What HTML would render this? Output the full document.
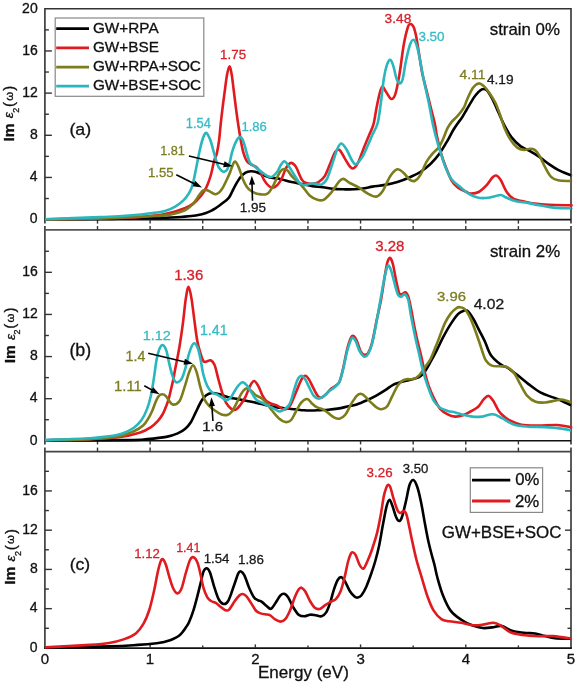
<!DOCTYPE html><html><head><meta charset="utf-8"><style>html,body{margin:0;padding:0;background:#fff;}svg{display:block;filter:blur(0.3px);}text{font-family:"Liberation Sans",Arial,sans-serif;stroke-width:0.3px;}</style></head><body>
<svg width="577" height="685" viewBox="0 0 577 685">
<rect width="577" height="685" fill="#fff"/>
<path d="M44.90,223.60 L44.90,8.75 L571.00,8.75 L571.00,223.60" fill="none" stroke="#333333" stroke-width="1.60" stroke-linejoin="miter"/>
<line x1="44.90" y1="219.60" x2="571.00" y2="219.60" stroke="#111" stroke-width="1.60" stroke-linecap="butt"/>
<line x1="44.90" y1="226.10" x2="44.90" y2="444.40" stroke="#333333" stroke-width="1.60" stroke-linecap="butt"/>
<line x1="571.00" y1="226.10" x2="571.00" y2="444.40" stroke="#333333" stroke-width="1.60" stroke-linecap="butt"/>
<line x1="44.90" y1="229.90" x2="571.00" y2="229.90" stroke="#555" stroke-width="1.60" stroke-linecap="butt"/>
<line x1="44.90" y1="440.80" x2="571.00" y2="440.80" stroke="#111" stroke-width="1.60" stroke-linecap="butt"/>
<line x1="44.90" y1="447.60" x2="44.90" y2="648.80" stroke="#333333" stroke-width="1.60" stroke-linecap="butt"/>
<line x1="571.00" y1="447.60" x2="571.00" y2="648.80" stroke="#333333" stroke-width="1.60" stroke-linecap="butt"/>
<line x1="44.90" y1="451.60" x2="571.00" y2="451.60" stroke="#444" stroke-width="1.60" stroke-linecap="butt"/>
<line x1="44.10" y1="648.20" x2="571.80" y2="648.20" stroke="#111" stroke-width="1.80" stroke-linecap="butt"/>
<line x1="97.51" y1="219.60" x2="97.51" y2="223.60" stroke="#333333" stroke-width="1.40" stroke-linecap="butt"/>
<line x1="97.51" y1="226.10" x2="97.51" y2="229.90" stroke="#333333" stroke-width="1.40" stroke-linecap="butt"/>
<line x1="97.51" y1="440.80" x2="97.51" y2="444.40" stroke="#333333" stroke-width="1.40" stroke-linecap="butt"/>
<line x1="97.51" y1="447.60" x2="97.51" y2="451.60" stroke="#333333" stroke-width="1.40" stroke-linecap="butt"/>
<line x1="97.51" y1="647.90" x2="97.51" y2="645.40" stroke="#333333" stroke-width="1.40" stroke-linecap="butt"/>
<line x1="150.12" y1="219.60" x2="150.12" y2="223.60" stroke="#333333" stroke-width="1.40" stroke-linecap="butt"/>
<line x1="150.12" y1="226.10" x2="150.12" y2="229.90" stroke="#333333" stroke-width="1.40" stroke-linecap="butt"/>
<line x1="150.12" y1="440.80" x2="150.12" y2="444.40" stroke="#333333" stroke-width="1.40" stroke-linecap="butt"/>
<line x1="150.12" y1="447.60" x2="150.12" y2="451.60" stroke="#333333" stroke-width="1.40" stroke-linecap="butt"/>
<line x1="150.12" y1="647.90" x2="150.12" y2="644.40" stroke="#333333" stroke-width="1.40" stroke-linecap="butt"/>
<line x1="202.73" y1="219.60" x2="202.73" y2="223.60" stroke="#333333" stroke-width="1.40" stroke-linecap="butt"/>
<line x1="202.73" y1="226.10" x2="202.73" y2="229.90" stroke="#333333" stroke-width="1.40" stroke-linecap="butt"/>
<line x1="202.73" y1="440.80" x2="202.73" y2="444.40" stroke="#333333" stroke-width="1.40" stroke-linecap="butt"/>
<line x1="202.73" y1="447.60" x2="202.73" y2="451.60" stroke="#333333" stroke-width="1.40" stroke-linecap="butt"/>
<line x1="202.73" y1="647.90" x2="202.73" y2="645.40" stroke="#333333" stroke-width="1.40" stroke-linecap="butt"/>
<line x1="255.34" y1="219.60" x2="255.34" y2="223.60" stroke="#333333" stroke-width="1.40" stroke-linecap="butt"/>
<line x1="255.34" y1="226.10" x2="255.34" y2="229.90" stroke="#333333" stroke-width="1.40" stroke-linecap="butt"/>
<line x1="255.34" y1="440.80" x2="255.34" y2="444.40" stroke="#333333" stroke-width="1.40" stroke-linecap="butt"/>
<line x1="255.34" y1="447.60" x2="255.34" y2="451.60" stroke="#333333" stroke-width="1.40" stroke-linecap="butt"/>
<line x1="255.34" y1="647.90" x2="255.34" y2="644.40" stroke="#333333" stroke-width="1.40" stroke-linecap="butt"/>
<line x1="307.95" y1="219.60" x2="307.95" y2="223.60" stroke="#333333" stroke-width="1.40" stroke-linecap="butt"/>
<line x1="307.95" y1="226.10" x2="307.95" y2="229.90" stroke="#333333" stroke-width="1.40" stroke-linecap="butt"/>
<line x1="307.95" y1="440.80" x2="307.95" y2="444.40" stroke="#333333" stroke-width="1.40" stroke-linecap="butt"/>
<line x1="307.95" y1="447.60" x2="307.95" y2="451.60" stroke="#333333" stroke-width="1.40" stroke-linecap="butt"/>
<line x1="307.95" y1="647.90" x2="307.95" y2="645.40" stroke="#333333" stroke-width="1.40" stroke-linecap="butt"/>
<line x1="360.56" y1="219.60" x2="360.56" y2="223.60" stroke="#333333" stroke-width="1.40" stroke-linecap="butt"/>
<line x1="360.56" y1="226.10" x2="360.56" y2="229.90" stroke="#333333" stroke-width="1.40" stroke-linecap="butt"/>
<line x1="360.56" y1="440.80" x2="360.56" y2="444.40" stroke="#333333" stroke-width="1.40" stroke-linecap="butt"/>
<line x1="360.56" y1="447.60" x2="360.56" y2="451.60" stroke="#333333" stroke-width="1.40" stroke-linecap="butt"/>
<line x1="360.56" y1="647.90" x2="360.56" y2="644.40" stroke="#333333" stroke-width="1.40" stroke-linecap="butt"/>
<line x1="413.17" y1="219.60" x2="413.17" y2="223.60" stroke="#333333" stroke-width="1.40" stroke-linecap="butt"/>
<line x1="413.17" y1="226.10" x2="413.17" y2="229.90" stroke="#333333" stroke-width="1.40" stroke-linecap="butt"/>
<line x1="413.17" y1="440.80" x2="413.17" y2="444.40" stroke="#333333" stroke-width="1.40" stroke-linecap="butt"/>
<line x1="413.17" y1="447.60" x2="413.17" y2="451.60" stroke="#333333" stroke-width="1.40" stroke-linecap="butt"/>
<line x1="413.17" y1="647.90" x2="413.17" y2="645.40" stroke="#333333" stroke-width="1.40" stroke-linecap="butt"/>
<line x1="465.78" y1="219.60" x2="465.78" y2="223.60" stroke="#333333" stroke-width="1.40" stroke-linecap="butt"/>
<line x1="465.78" y1="226.10" x2="465.78" y2="229.90" stroke="#333333" stroke-width="1.40" stroke-linecap="butt"/>
<line x1="465.78" y1="440.80" x2="465.78" y2="444.40" stroke="#333333" stroke-width="1.40" stroke-linecap="butt"/>
<line x1="465.78" y1="447.60" x2="465.78" y2="451.60" stroke="#333333" stroke-width="1.40" stroke-linecap="butt"/>
<line x1="465.78" y1="647.90" x2="465.78" y2="644.40" stroke="#333333" stroke-width="1.40" stroke-linecap="butt"/>
<line x1="518.39" y1="219.60" x2="518.39" y2="223.60" stroke="#333333" stroke-width="1.40" stroke-linecap="butt"/>
<line x1="518.39" y1="226.10" x2="518.39" y2="229.90" stroke="#333333" stroke-width="1.40" stroke-linecap="butt"/>
<line x1="518.39" y1="440.80" x2="518.39" y2="444.40" stroke="#333333" stroke-width="1.40" stroke-linecap="butt"/>
<line x1="518.39" y1="447.60" x2="518.39" y2="451.60" stroke="#333333" stroke-width="1.40" stroke-linecap="butt"/>
<line x1="518.39" y1="647.90" x2="518.39" y2="645.40" stroke="#333333" stroke-width="1.40" stroke-linecap="butt"/>
<line x1="44.90" y1="219.60" x2="51.90" y2="219.60" stroke="#333333" stroke-width="1.40" stroke-linecap="butt"/>
<line x1="44.90" y1="198.52" x2="48.90" y2="198.52" stroke="#333333" stroke-width="1.40" stroke-linecap="butt"/>
<line x1="44.90" y1="177.44" x2="51.90" y2="177.44" stroke="#333333" stroke-width="1.40" stroke-linecap="butt"/>
<line x1="44.90" y1="156.36" x2="48.90" y2="156.36" stroke="#333333" stroke-width="1.40" stroke-linecap="butt"/>
<line x1="44.90" y1="135.28" x2="51.90" y2="135.28" stroke="#333333" stroke-width="1.40" stroke-linecap="butt"/>
<line x1="44.90" y1="114.20" x2="48.90" y2="114.20" stroke="#333333" stroke-width="1.40" stroke-linecap="butt"/>
<line x1="44.90" y1="93.12" x2="51.90" y2="93.12" stroke="#333333" stroke-width="1.40" stroke-linecap="butt"/>
<line x1="44.90" y1="72.04" x2="48.90" y2="72.04" stroke="#333333" stroke-width="1.40" stroke-linecap="butt"/>
<line x1="44.90" y1="50.96" x2="51.90" y2="50.96" stroke="#333333" stroke-width="1.40" stroke-linecap="butt"/>
<line x1="44.90" y1="29.88" x2="48.90" y2="29.88" stroke="#333333" stroke-width="1.40" stroke-linecap="butt"/>
<line x1="44.90" y1="440.80" x2="51.90" y2="440.80" stroke="#333333" stroke-width="1.40" stroke-linecap="butt"/>
<line x1="44.90" y1="419.74" x2="48.90" y2="419.74" stroke="#333333" stroke-width="1.40" stroke-linecap="butt"/>
<line x1="44.90" y1="398.68" x2="51.90" y2="398.68" stroke="#333333" stroke-width="1.40" stroke-linecap="butt"/>
<line x1="44.90" y1="377.62" x2="48.90" y2="377.62" stroke="#333333" stroke-width="1.40" stroke-linecap="butt"/>
<line x1="44.90" y1="356.56" x2="51.90" y2="356.56" stroke="#333333" stroke-width="1.40" stroke-linecap="butt"/>
<line x1="44.90" y1="335.50" x2="48.90" y2="335.50" stroke="#333333" stroke-width="1.40" stroke-linecap="butt"/>
<line x1="44.90" y1="314.44" x2="51.90" y2="314.44" stroke="#333333" stroke-width="1.40" stroke-linecap="butt"/>
<line x1="44.90" y1="293.38" x2="48.90" y2="293.38" stroke="#333333" stroke-width="1.40" stroke-linecap="butt"/>
<line x1="44.90" y1="272.32" x2="51.90" y2="272.32" stroke="#333333" stroke-width="1.40" stroke-linecap="butt"/>
<line x1="44.90" y1="251.26" x2="48.90" y2="251.26" stroke="#333333" stroke-width="1.40" stroke-linecap="butt"/>
<line x1="44.90" y1="647.90" x2="51.90" y2="647.90" stroke="#333333" stroke-width="1.40" stroke-linecap="butt"/>
<line x1="44.90" y1="628.28" x2="48.90" y2="628.28" stroke="#333333" stroke-width="1.40" stroke-linecap="butt"/>
<line x1="571.00" y1="628.28" x2="567.50" y2="628.28" stroke="#333333" stroke-width="1.40" stroke-linecap="butt"/>
<line x1="44.90" y1="608.66" x2="51.90" y2="608.66" stroke="#333333" stroke-width="1.40" stroke-linecap="butt"/>
<line x1="571.00" y1="608.66" x2="565.00" y2="608.66" stroke="#333333" stroke-width="1.40" stroke-linecap="butt"/>
<line x1="44.90" y1="589.04" x2="48.90" y2="589.04" stroke="#333333" stroke-width="1.40" stroke-linecap="butt"/>
<line x1="571.00" y1="589.04" x2="567.50" y2="589.04" stroke="#333333" stroke-width="1.40" stroke-linecap="butt"/>
<line x1="44.90" y1="569.42" x2="51.90" y2="569.42" stroke="#333333" stroke-width="1.40" stroke-linecap="butt"/>
<line x1="571.00" y1="569.42" x2="565.00" y2="569.42" stroke="#333333" stroke-width="1.40" stroke-linecap="butt"/>
<line x1="44.90" y1="549.80" x2="48.90" y2="549.80" stroke="#333333" stroke-width="1.40" stroke-linecap="butt"/>
<line x1="571.00" y1="549.80" x2="567.50" y2="549.80" stroke="#333333" stroke-width="1.40" stroke-linecap="butt"/>
<line x1="44.90" y1="530.18" x2="51.90" y2="530.18" stroke="#333333" stroke-width="1.40" stroke-linecap="butt"/>
<line x1="571.00" y1="530.18" x2="565.00" y2="530.18" stroke="#333333" stroke-width="1.40" stroke-linecap="butt"/>
<line x1="44.90" y1="510.56" x2="48.90" y2="510.56" stroke="#333333" stroke-width="1.40" stroke-linecap="butt"/>
<line x1="571.00" y1="510.56" x2="567.50" y2="510.56" stroke="#333333" stroke-width="1.40" stroke-linecap="butt"/>
<line x1="44.90" y1="490.94" x2="51.90" y2="490.94" stroke="#333333" stroke-width="1.40" stroke-linecap="butt"/>
<line x1="571.00" y1="490.94" x2="565.00" y2="490.94" stroke="#333333" stroke-width="1.40" stroke-linecap="butt"/>
<line x1="44.90" y1="471.32" x2="48.90" y2="471.32" stroke="#333333" stroke-width="1.40" stroke-linecap="butt"/>
<line x1="571.00" y1="471.32" x2="567.50" y2="471.32" stroke="#333333" stroke-width="1.40" stroke-linecap="butt"/>
<path d="M45.00,219.30 C54.17,219.25 84.17,219.22 100.00,219.00 C115.83,218.78 130.47,218.17 140.00,218.00 C149.53,217.83 151.15,218.13 157.20,218.00 C163.25,217.87 170.58,217.53 176.30,217.20 C182.02,216.87 187.38,216.47 191.50,216.00 C195.62,215.53 198.58,214.90 201.00,214.40 C203.42,213.90 204.33,213.60 206.00,213.00 C207.67,212.40 209.50,211.53 211.00,210.80 C212.50,210.07 213.58,209.48 215.00,208.60 C216.42,207.72 218.00,206.60 219.50,205.50 C221.00,204.40 222.70,203.03 224.00,202.00 C225.30,200.97 226.30,200.30 227.30,199.30 C228.30,198.30 228.68,198.28 230.00,196.00 C231.32,193.72 233.47,188.72 235.20,185.60 C236.93,182.48 238.67,179.47 240.40,177.30 C242.13,175.13 243.87,173.62 245.60,172.60 C247.33,171.58 249.07,171.32 250.80,171.20 C252.53,171.08 254.27,171.40 256.00,171.90 C257.73,172.40 259.47,173.48 261.20,174.20 C262.93,174.92 264.67,175.60 266.40,176.20 C268.13,176.80 269.87,177.45 271.60,177.80 C273.33,178.15 275.07,178.03 276.80,178.30 C278.53,178.57 279.53,178.78 282.00,179.40 C284.47,180.02 288.27,181.22 291.60,182.00 C294.93,182.78 298.53,183.40 302.00,184.10 C305.47,184.80 308.93,185.68 312.40,186.20 C315.87,186.72 319.33,186.75 322.80,187.20 C326.27,187.65 329.73,188.55 333.20,188.90 C336.67,189.25 340.13,189.23 343.60,189.30 C347.07,189.37 350.53,189.48 354.00,189.30 C357.47,189.12 361.32,188.65 364.40,188.20 C367.48,187.75 369.07,187.15 372.50,186.60 C375.93,186.05 380.85,185.67 385.00,184.90 C389.15,184.13 393.25,183.28 397.40,182.00 C401.55,180.72 406.08,178.87 409.90,177.20 C413.72,175.53 416.83,174.25 420.30,172.00 C423.77,169.75 427.58,166.65 430.70,163.70 C433.82,160.75 436.22,158.12 439.00,154.30 C441.78,150.48 445.07,144.77 447.40,140.80 C449.73,136.83 451.23,133.47 453.00,130.50 C454.77,127.53 456.50,125.17 458.00,123.00 C459.50,120.83 460.50,119.83 462.00,117.50 C463.50,115.17 465.00,112.35 467.00,109.00 C469.00,105.65 472.17,100.15 474.00,97.40 C475.83,94.65 476.63,93.87 478.00,92.50 C479.37,91.13 480.72,89.55 482.20,89.20 C483.68,88.85 485.15,88.65 486.90,90.40 C488.65,92.15 490.77,96.02 492.70,99.70 C494.63,103.38 496.55,108.22 498.50,112.50 C500.45,116.78 502.25,121.30 504.40,125.40 C506.55,129.50 508.68,133.60 511.40,137.10 C514.12,140.60 517.60,144.07 520.70,146.40 C523.80,148.73 526.88,149.35 530.00,151.10 C533.12,152.85 536.28,154.77 539.40,156.90 C542.52,159.03 545.58,161.75 548.70,163.90 C551.82,166.05 554.58,167.97 558.10,169.80 C561.62,171.63 567.65,173.98 569.80,174.90 C571.95,175.82 570.80,175.23 571.00,175.30" fill="none" stroke="#000000" stroke-width="2.60" stroke-linejoin="round" stroke-linecap="butt"/>
<path d="M45.00,219.30 C54.17,219.17 84.48,218.87 100.00,218.50 C115.52,218.13 128.57,217.65 138.10,217.10 C147.63,216.55 152.72,215.72 157.20,215.20 C161.68,214.68 162.00,214.62 165.00,214.00 C168.00,213.38 171.80,212.50 175.20,211.50 C178.60,210.50 182.33,209.35 185.40,208.00 C188.47,206.65 191.20,205.20 193.60,203.40 C196.00,201.60 197.92,199.43 199.80,197.20 C201.68,194.97 203.55,192.25 204.90,190.00 C206.25,187.75 206.88,186.28 207.90,183.70 C208.92,181.12 210.13,177.57 211.00,174.50 C211.87,171.43 212.48,167.88 213.10,165.30 C213.72,162.72 214.07,161.03 214.70,159.00 C215.33,156.97 216.17,156.27 216.90,153.10 C217.63,149.93 218.43,145.17 219.10,140.00 C219.77,134.83 220.28,127.77 220.90,122.10 C221.52,116.43 222.13,111.35 222.80,106.00 C223.47,100.65 224.20,95.17 224.90,90.00 C225.60,84.83 226.25,78.93 227.00,75.00 C227.75,71.07 228.63,66.57 229.40,66.40 C230.17,66.23 230.88,70.07 231.60,74.00 C232.32,77.93 232.95,84.12 233.70,90.00 C234.45,95.88 235.28,103.13 236.10,109.30 C236.92,115.47 237.78,121.65 238.60,127.00 C239.42,132.35 240.20,137.12 241.00,141.40 C241.80,145.68 242.47,149.48 243.40,152.70 C244.33,155.92 245.27,158.70 246.60,160.70 C247.93,162.70 249.80,163.63 251.40,164.70 C253.00,165.77 254.73,165.87 256.20,167.10 C257.67,168.33 258.85,169.88 260.20,172.10 C261.55,174.32 262.92,178.15 264.30,180.40 C265.68,182.65 267.12,184.37 268.50,185.60 C269.88,186.83 271.22,187.80 272.60,187.80 C273.98,187.80 275.57,186.65 276.80,185.60 C278.03,184.55 279.13,182.77 280.00,181.50 C280.87,180.23 281.10,180.00 282.00,178.00 C282.90,176.00 284.32,171.75 285.40,169.50 C286.48,167.25 287.47,165.60 288.50,164.50 C289.53,163.40 290.60,162.82 291.60,162.90 C292.60,162.98 293.63,164.07 294.50,165.00 C295.37,165.93 295.55,166.02 296.80,168.50 C298.05,170.98 300.43,177.48 302.00,179.90 C303.57,182.32 304.47,182.37 306.20,183.00 C307.93,183.63 310.33,183.87 312.40,183.70 C314.47,183.53 316.52,183.32 318.60,182.00 C320.68,180.68 322.82,179.27 324.90,175.80 C326.98,172.33 329.37,165.20 331.10,161.20 C332.83,157.20 333.92,153.70 335.30,151.80 C336.68,149.90 337.85,148.75 339.40,149.80 C340.95,150.85 342.87,155.33 344.60,158.10 C346.33,160.87 348.40,164.67 349.80,166.40 C351.20,168.13 351.97,168.57 353.00,168.50 C354.03,168.43 354.97,167.38 356.00,166.00 C357.03,164.62 357.83,163.37 359.20,160.20 C360.57,157.03 362.50,151.27 364.20,147.00 C365.90,142.73 367.85,138.40 369.40,134.60 C370.95,130.80 372.30,128.73 373.50,124.20 C374.70,119.67 375.55,112.63 376.60,107.40 C377.65,102.17 378.82,96.27 379.80,92.80 C380.78,89.33 381.47,86.77 382.50,86.60 C383.53,86.43 384.55,89.73 386.00,91.80 C387.45,93.87 389.63,98.67 391.20,99.00 C392.77,99.33 394.02,97.95 395.40,93.80 C396.78,89.65 398.12,82.23 399.50,74.10 C400.88,65.97 402.32,52.80 403.70,45.00 C405.08,37.20 406.67,30.80 407.80,27.30 C408.93,23.80 409.52,24.00 410.50,24.00 C411.48,24.00 412.75,25.20 413.70,27.30 C414.65,29.40 415.27,31.92 416.20,36.60 C417.13,41.28 418.27,49.15 419.30,55.40 C420.33,61.65 421.18,68.22 422.40,74.10 C423.62,79.98 425.22,85.15 426.60,90.70 C427.98,96.25 429.32,101.85 430.70,107.40 C432.08,112.95 433.85,119.13 434.90,124.00 C435.95,128.87 435.97,131.72 437.00,136.60 C438.03,141.48 439.72,148.43 441.10,153.30 C442.48,158.17 443.57,161.30 445.30,165.80 C447.03,170.30 449.42,176.67 451.50,180.30 C453.58,183.93 455.37,185.68 457.80,187.60 C460.23,189.52 463.90,190.80 466.10,191.80 C468.30,192.80 468.90,193.57 471.00,193.60 C473.10,193.63 476.05,193.45 478.70,192.00 C481.35,190.55 484.57,187.37 486.90,184.90 C489.23,182.43 491.07,178.75 492.70,177.20 C494.33,175.65 495.33,175.08 496.70,175.60 C498.07,176.12 499.23,177.57 500.90,180.30 C502.57,183.03 504.57,188.88 506.70,192.00 C508.83,195.12 510.97,197.45 513.70,199.00 C516.43,200.55 519.60,200.53 523.10,201.30 C526.60,202.07 530.43,203.02 534.70,203.60 C538.97,204.18 542.85,204.52 548.70,204.80 C554.55,205.08 566.08,205.22 569.80,205.30 C573.52,205.38 570.80,205.30 571.00,205.30" fill="none" stroke="#e01a1e" stroke-width="2.60" stroke-linejoin="round" stroke-linecap="butt"/>
<path d="M45.00,219.30 C54.17,219.17 84.17,218.93 100.00,218.50 C115.83,218.07 130.47,217.12 140.00,216.70 C149.53,216.28 153.03,216.22 157.20,216.00 C161.37,215.78 162.00,215.82 165.00,215.40 C168.00,214.98 171.80,214.40 175.20,213.50 C178.60,212.60 182.67,211.35 185.40,210.00 C188.13,208.65 189.88,207.02 191.60,205.40 C193.32,203.78 194.33,202.17 195.70,200.30 C197.07,198.43 198.53,195.83 199.80,194.20 C201.07,192.57 202.12,191.18 203.30,190.50 C204.48,189.82 205.78,189.92 206.90,190.10 C208.02,190.28 209.22,191.20 210.00,191.60 C210.78,192.00 210.67,192.05 211.60,192.50 C212.53,192.95 214.28,194.37 215.60,194.30 C216.92,194.23 218.27,193.27 219.50,192.10 C220.73,190.93 221.83,189.27 223.00,187.30 C224.17,185.33 225.33,182.78 226.50,180.30 C227.67,177.82 228.98,174.88 230.00,172.40 C231.02,169.92 231.77,167.22 232.60,165.40 C233.43,163.58 234.00,161.22 235.00,161.50 C236.00,161.78 237.33,164.28 238.60,167.10 C239.87,169.92 241.27,175.17 242.60,178.40 C243.93,181.63 245.23,184.43 246.60,186.50 C247.97,188.57 249.23,189.65 250.80,190.80 C252.37,191.95 254.27,192.80 256.00,193.40 C257.73,194.00 259.62,194.23 261.20,194.40 C262.78,194.57 264.20,194.75 265.50,194.40 C266.80,194.05 267.83,193.53 269.00,192.30 C270.17,191.07 271.45,188.82 272.50,187.00 C273.55,185.18 274.05,183.90 275.30,181.40 C276.55,178.90 278.58,174.07 280.00,172.00 C281.42,169.93 282.50,169.20 283.80,169.00 C285.10,168.80 286.37,169.50 287.80,170.80 C289.23,172.10 290.03,174.27 292.40,176.80 C294.77,179.33 299.13,182.88 302.00,186.00 C304.87,189.12 307.03,193.20 309.60,195.50 C312.17,197.80 315.07,199.08 317.40,199.80 C319.73,200.52 321.27,201.05 323.60,199.80 C325.93,198.55 328.80,195.37 331.40,192.30 C334.00,189.23 337.17,183.63 339.20,181.40 C341.23,179.17 341.83,178.63 343.60,178.90 C345.37,179.17 347.37,181.62 349.80,183.00 C352.23,184.38 355.77,185.80 358.20,187.20 C360.63,188.60 362.43,190.13 364.40,191.40 C366.37,192.67 367.97,193.95 370.00,194.80 C372.03,195.65 374.45,197.18 376.60,196.50 C378.75,195.82 380.63,194.08 382.90,190.70 C385.17,187.32 387.78,179.77 390.20,176.20 C392.62,172.63 395.15,169.83 397.40,169.30 C399.65,168.77 401.62,171.23 403.70,173.00 C405.78,174.77 408.00,178.62 409.90,179.90 C411.80,181.18 413.37,181.50 415.10,180.70 C416.83,179.90 418.38,178.28 420.30,175.10 C422.22,171.92 424.52,165.23 426.60,161.60 C428.68,157.97 430.73,155.73 432.80,153.30 C434.87,150.87 437.27,149.43 439.00,147.00 C440.73,144.57 441.80,141.82 443.20,138.70 C444.60,135.58 446.02,131.07 447.40,128.30 C448.78,125.53 449.77,124.20 451.50,122.10 C453.23,120.00 455.72,118.15 457.80,115.70 C459.88,113.25 462.47,110.07 464.00,107.40 C465.53,104.73 465.53,102.93 467.00,99.70 C468.47,96.47 470.88,90.72 472.80,88.00 C474.72,85.28 476.73,83.78 478.50,83.40 C480.27,83.02 481.62,84.15 483.40,85.70 C485.18,87.25 487.27,89.98 489.20,92.70 C491.13,95.42 493.25,98.50 495.00,102.00 C496.75,105.50 498.13,109.42 499.70,113.70 C501.27,117.98 502.65,123.42 504.40,127.70 C506.15,131.98 508.07,136.08 510.20,139.40 C512.33,142.72 514.87,145.85 517.20,147.60 C519.53,149.35 522.07,149.72 524.20,149.90 C526.33,150.08 528.25,148.70 530.00,148.70 C531.75,148.70 533.13,148.73 534.70,149.90 C536.27,151.07 537.65,152.78 539.40,155.70 C541.15,158.62 543.25,163.88 545.20,167.40 C547.15,170.92 548.95,174.65 551.10,176.80 C553.25,178.95 554.98,179.60 558.10,180.30 C561.22,181.00 567.65,180.88 569.80,181.00 C571.95,181.12 570.80,181.00 571.00,181.00" fill="none" stroke="#7c7c1c" stroke-width="2.60" stroke-linejoin="round" stroke-linecap="butt"/>
<path d="M45.00,219.20 C54.17,218.85 87.65,217.58 100.00,217.10 C112.35,216.62 112.75,216.68 119.10,216.30 C125.45,215.92 132.38,215.37 138.10,214.80 C143.82,214.23 148.92,213.52 153.40,212.90 C157.88,212.28 161.37,212.15 165.00,211.10 C168.63,210.05 172.13,208.38 175.20,206.60 C178.27,204.82 181.18,202.50 183.40,200.40 C185.62,198.30 187.13,196.10 188.50,194.00 C189.87,191.90 190.75,190.02 191.60,187.80 C192.45,185.58 192.92,183.60 193.60,180.70 C194.28,177.80 195.02,173.82 195.70,170.40 C196.38,166.98 197.02,163.60 197.70,160.20 C198.38,156.80 199.05,153.28 199.80,150.00 C200.55,146.72 201.42,143.08 202.20,140.50 C202.98,137.92 203.78,135.75 204.50,134.50 C205.22,133.25 205.78,132.67 206.50,133.00 C207.22,133.33 208.05,135.00 208.80,136.50 C209.55,138.00 210.22,139.58 211.00,142.00 C211.78,144.42 212.67,147.98 213.50,151.00 C214.33,154.02 215.15,157.42 216.00,160.10 C216.85,162.78 217.60,165.27 218.60,167.10 C219.60,168.93 221.07,170.32 222.00,171.10 C222.93,171.88 223.37,172.02 224.20,171.80 C225.03,171.58 226.10,171.30 227.00,169.80 C227.90,168.30 228.80,165.58 229.60,162.80 C230.40,160.02 230.98,156.07 231.80,153.10 C232.62,150.13 233.55,147.35 234.50,145.00 C235.45,142.65 236.55,140.37 237.50,139.00 C238.45,137.63 239.22,136.40 240.20,136.80 C241.18,137.20 242.33,138.75 243.40,141.40 C244.47,144.05 245.53,149.22 246.60,152.70 C247.67,156.18 248.50,160.03 249.80,162.30 C251.10,164.57 252.80,164.97 254.40,166.30 C256.00,167.63 257.75,169.02 259.40,170.30 C261.05,171.58 262.70,172.92 264.30,174.00 C265.90,175.08 267.63,176.38 269.00,176.80 C270.37,177.22 271.08,177.38 272.50,176.50 C273.92,175.62 276.17,173.33 277.50,171.50 C278.83,169.67 279.37,167.22 280.50,165.50 C281.63,163.78 283.05,161.28 284.30,161.20 C285.55,161.12 286.78,163.43 288.00,165.00 C289.22,166.57 289.78,167.77 291.60,170.60 C293.42,173.43 296.82,179.58 298.90,182.00 C300.98,184.42 302.20,184.82 304.10,185.10 C306.00,185.38 308.22,183.93 310.30,183.70 C312.38,183.47 314.68,183.57 316.60,183.70 C318.52,183.83 320.07,185.30 321.80,184.50 C323.53,183.70 325.10,182.78 327.00,178.90 C328.90,175.02 331.47,166.23 333.20,161.20 C334.93,156.17 336.02,151.65 337.40,148.70 C338.78,145.75 339.95,143.32 341.50,143.50 C343.05,143.68 344.97,147.02 346.70,149.80 C348.43,152.58 350.33,157.78 351.90,160.20 C353.47,162.62 354.37,164.83 356.10,164.30 C357.83,163.77 360.62,159.53 362.30,157.00 C363.98,154.47 364.92,151.87 366.20,149.10 C367.48,146.33 368.95,142.82 370.00,140.40 C371.05,137.98 371.22,137.50 372.50,134.60 C373.78,131.70 376.32,128.23 377.70,123.00 C379.08,117.77 379.77,110.67 380.80,103.20 C381.83,95.73 382.87,84.62 383.90,78.20 C384.93,71.78 385.95,67.75 387.00,64.70 C388.05,61.65 389.15,59.72 390.20,59.90 C391.25,60.08 392.27,62.75 393.30,65.80 C394.33,68.85 395.37,75.27 396.40,78.20 C397.43,81.13 398.47,83.22 399.50,83.40 C400.53,83.58 401.55,82.93 402.60,79.30 C403.65,75.67 404.58,67.32 405.80,61.60 C407.02,55.88 408.58,48.63 409.90,45.00 C411.22,41.37 412.48,39.47 413.70,39.80 C414.92,40.13 416.10,43.37 417.20,47.00 C418.30,50.63 419.27,56.40 420.30,61.60 C421.33,66.80 422.35,73.00 423.40,78.20 C424.45,83.40 425.55,87.93 426.60,92.80 C427.65,97.67 428.67,102.20 429.70,107.40 C430.73,112.60 431.77,119.13 432.80,124.00 C433.83,128.87 434.68,132.07 435.90,136.60 C437.12,141.13 438.53,146.17 440.10,151.20 C441.67,156.23 443.40,162.12 445.30,166.80 C447.20,171.48 449.08,176.00 451.50,179.30 C453.92,182.60 457.02,184.23 459.80,186.60 C462.58,188.97 465.77,191.85 468.20,193.50 C470.63,195.15 472.43,195.75 474.40,196.50 C476.37,197.25 477.73,197.78 480.00,198.00 C482.27,198.22 485.50,198.10 488.00,197.80 C490.50,197.50 492.85,196.67 495.00,196.20 C497.15,195.73 498.95,194.73 500.90,195.00 C502.85,195.27 504.18,196.75 506.70,197.80 C509.22,198.85 512.50,200.45 516.00,201.30 C519.50,202.15 523.80,202.23 527.70,202.90 C531.60,203.57 535.12,204.52 539.40,205.30 C543.68,206.08 548.33,207.10 553.40,207.60 C558.47,208.10 566.87,208.18 569.80,208.30 C572.73,208.42 570.80,208.30 571.00,208.30" fill="none" stroke="#29b6bc" stroke-width="2.60" stroke-linejoin="round" stroke-linecap="butt"/>
<path d="M45.00,440.50 C58.85,440.43 111.07,440.33 128.10,440.10 C145.13,439.87 140.83,439.63 147.20,439.10 C153.57,438.57 161.22,437.85 166.30,436.90 C171.38,435.95 174.53,434.77 177.70,433.40 C180.87,432.03 183.08,430.60 185.30,428.70 C187.52,426.80 189.27,424.72 191.00,422.00 C192.73,419.28 193.97,415.90 195.70,412.40 C197.43,408.90 199.65,403.85 201.40,401.00 C203.15,398.15 204.45,396.63 206.20,395.30 C207.95,393.97 209.83,393.22 211.90,393.00 C213.97,392.78 215.90,393.30 218.60,394.00 C221.30,394.70 224.92,396.35 228.10,397.20 C231.28,398.05 234.52,398.47 237.70,399.10 C240.88,399.73 244.03,400.37 247.20,401.00 C250.37,401.63 253.52,402.20 256.70,402.90 C259.88,403.60 263.12,404.50 266.30,405.20 C269.48,405.90 272.63,406.58 275.80,407.10 C278.97,407.62 282.12,407.93 285.30,408.30 C288.48,408.67 291.78,408.97 294.90,409.30 C298.02,409.63 301.15,410.10 304.00,410.30 C306.85,410.50 309.33,410.53 312.00,410.50 C314.67,410.47 317.32,410.23 320.00,410.10 C322.68,409.97 325.15,409.95 328.10,409.70 C331.05,409.45 334.52,409.12 337.70,408.60 C340.88,408.08 344.03,407.30 347.20,406.60 C350.37,405.90 353.52,405.42 356.70,404.40 C359.88,403.38 363.12,401.93 366.30,400.50 C369.48,399.07 372.63,397.53 375.80,395.80 C378.97,394.07 382.43,391.93 385.30,390.10 C388.17,388.27 390.55,386.10 393.00,384.80 C395.45,383.50 397.25,383.10 400.00,382.30 C402.75,381.50 406.32,380.85 409.50,380.00 C412.68,379.15 416.55,378.62 419.10,377.20 C421.65,375.78 422.90,374.05 424.80,371.50 C426.70,368.95 428.60,365.25 430.50,361.90 C432.40,358.55 434.13,355.43 436.20,351.40 C438.27,347.37 440.52,342.20 442.90,337.70 C445.28,333.20 447.95,328.37 450.50,324.40 C453.05,320.43 455.97,316.20 458.20,313.90 C460.43,311.60 462.32,311.08 463.90,310.60 C465.48,310.12 466.12,309.60 467.70,311.00 C469.28,312.40 471.50,315.82 473.40,319.00 C475.30,322.18 477.18,326.35 479.10,330.10 C481.02,333.85 483.37,338.18 484.90,341.50 C486.43,344.82 487.20,347.58 488.30,350.00 C489.40,352.42 489.97,354.00 491.50,356.00 C493.03,358.00 495.43,360.27 497.50,362.00 C499.57,363.73 502.28,365.48 503.90,366.40 C505.52,367.32 505.07,366.13 507.20,367.50 C509.33,368.87 513.15,371.83 516.70,374.60 C520.25,377.37 524.57,381.13 528.50,384.10 C532.43,387.07 536.35,390.23 540.30,392.40 C544.25,394.57 548.65,395.72 552.20,397.10 C555.75,398.48 558.65,399.40 561.60,400.70 C564.55,402.00 568.33,404.15 569.90,404.90 C571.47,405.65 570.82,405.15 571.00,405.20" fill="none" stroke="#000000" stroke-width="2.60" stroke-linejoin="round" stroke-linecap="butt"/>
<path d="M45.00,440.20 C52.50,440.02 77.73,439.60 90.00,439.10 C102.27,438.60 110.22,438.32 118.60,437.20 C126.98,436.08 134.97,434.05 140.30,432.40 C145.63,430.75 147.70,429.18 150.60,427.30 C153.50,425.42 155.67,423.32 157.70,421.10 C159.73,418.88 161.43,416.38 162.80,414.00 C164.17,411.62 164.95,409.18 165.90,406.80 C166.85,404.42 167.65,402.60 168.50,399.70 C169.35,396.80 170.23,392.65 171.00,389.40 C171.77,386.15 172.43,383.43 173.10,380.20 C173.77,376.97 174.38,373.20 175.00,370.00 C175.62,366.80 176.03,365.00 176.80,361.00 C177.57,357.00 178.58,352.27 179.60,346.00 C180.62,339.73 181.87,331.30 182.90,323.40 C183.93,315.50 184.85,304.70 185.80,298.60 C186.75,292.50 187.65,286.80 188.60,286.80 C189.55,286.80 190.55,293.13 191.50,298.60 C192.45,304.07 193.35,312.62 194.30,319.60 C195.25,326.58 196.20,334.98 197.20,340.50 C198.20,346.02 199.25,349.25 200.30,352.70 C201.35,356.15 202.43,359.73 203.50,361.20 C204.57,362.67 205.50,361.65 206.70,361.50 C207.90,361.35 209.38,359.72 210.70,360.30 C212.02,360.88 213.28,361.72 214.60,365.00 C215.92,368.28 217.30,375.27 218.60,380.00 C219.90,384.73 221.13,389.58 222.40,393.40 C223.67,397.22 224.77,400.37 226.20,402.90 C227.63,405.43 229.40,407.48 231.00,408.60 C232.60,409.72 234.22,410.23 235.80,409.60 C237.38,408.97 238.92,406.87 240.50,404.80 C242.08,402.73 243.70,400.37 245.30,397.20 C246.90,394.03 248.60,388.50 250.10,385.80 C251.60,383.10 252.88,380.85 254.30,381.00 C255.72,381.15 257.25,384.32 258.60,386.70 C259.95,389.08 261.12,392.92 262.40,395.30 C263.68,397.68 264.70,399.57 266.30,401.00 C267.90,402.43 270.10,403.10 272.00,403.90 C273.90,404.70 275.80,404.88 277.70,405.80 C279.60,406.72 281.82,408.93 283.40,409.40 C284.98,409.87 286.02,409.33 287.20,408.60 C288.38,407.87 289.08,407.62 290.50,405.00 C291.92,402.38 293.88,397.13 295.70,392.90 C297.52,388.67 299.80,382.45 301.40,379.60 C303.00,376.75 304.02,375.80 305.30,375.80 C306.58,375.80 307.83,377.70 309.10,379.60 C310.37,381.50 311.48,384.50 312.90,387.20 C314.32,389.90 316.17,394.05 317.60,395.80 C319.03,397.55 320.07,398.02 321.50,397.70 C322.93,397.38 324.62,395.40 326.20,393.90 C327.78,392.40 329.40,390.07 331.00,388.70 C332.60,387.33 334.37,386.90 335.80,385.70 C337.23,384.50 338.33,384.58 339.60,381.50 C340.87,378.42 342.13,372.60 343.40,367.20 C344.67,361.80 345.93,354.03 347.20,349.10 C348.47,344.17 349.88,339.77 351.00,337.60 C352.12,335.43 352.95,335.62 353.90,336.10 C354.85,336.58 355.60,338.02 356.70,340.50 C357.80,342.98 359.22,348.62 360.50,351.00 C361.78,353.38 363.12,354.48 364.40,354.80 C365.68,355.12 366.93,354.87 368.20,352.90 C369.47,350.93 370.58,348.47 372.00,343.00 C373.42,337.53 375.20,327.27 376.70,320.10 C378.20,312.93 379.82,306.28 381.00,300.00 C382.18,293.72 383.00,287.40 383.80,282.40 C384.60,277.40 385.17,273.47 385.80,270.00 C386.43,266.53 386.88,263.60 387.60,261.60 C388.32,259.60 389.20,257.52 390.10,258.00 C391.00,258.48 392.02,260.83 393.00,264.50 C393.98,268.17 394.98,275.27 396.00,280.00 C397.02,284.73 398.12,290.53 399.10,292.90 C400.08,295.27 400.80,294.30 401.90,294.20 C403.00,294.10 404.58,291.72 405.70,292.30 C406.82,292.88 407.63,294.58 408.60,297.70 C409.57,300.82 410.55,306.23 411.50,311.00 C412.45,315.77 413.35,321.50 414.30,326.30 C415.25,331.10 416.08,334.97 417.20,339.80 C418.32,344.63 419.73,349.87 421.00,355.30 C422.27,360.73 423.53,367.32 424.80,372.40 C426.07,377.48 427.17,381.67 428.60,385.80 C430.03,389.93 431.50,393.40 433.40,397.20 C435.30,401.00 437.62,405.73 440.00,408.60 C442.38,411.47 445.15,413.07 447.70,414.40 C450.25,415.73 452.77,416.45 455.30,416.60 C457.83,416.75 460.37,416.15 462.90,415.30 C465.43,414.45 467.95,412.93 470.50,411.50 C473.05,410.07 475.97,408.77 478.20,406.70 C480.43,404.63 482.15,400.90 483.90,399.10 C485.65,397.30 487.12,395.58 488.70,395.90 C490.28,396.22 491.67,398.40 493.40,401.00 C495.13,403.60 497.18,408.80 499.10,411.50 C501.02,414.20 503.08,415.70 504.90,417.20 C506.72,418.70 507.25,419.23 510.00,420.50 C512.75,421.77 516.73,423.97 521.40,424.80 C526.07,425.63 532.08,425.47 538.00,425.50 C543.92,425.53 551.58,424.73 556.90,425.00 C562.22,425.27 567.55,426.73 569.90,427.10 C572.25,427.47 570.82,427.18 571.00,427.20" fill="none" stroke="#e01a1e" stroke-width="2.60" stroke-linejoin="round" stroke-linecap="butt"/>
<path d="M45.00,440.20 C52.50,440.02 77.73,439.72 90.00,439.10 C102.27,438.48 111.28,437.82 118.60,436.50 C125.92,435.18 129.77,433.08 133.90,431.20 C138.03,429.32 140.97,427.38 143.40,425.20 C145.83,423.02 146.97,420.65 148.50,418.10 C150.03,415.55 151.40,412.63 152.60,409.90 C153.80,407.17 154.68,404.00 155.70,401.70 C156.72,399.40 157.60,397.33 158.70,396.10 C159.80,394.87 161.10,394.30 162.30,394.30 C163.50,394.30 164.78,395.03 165.90,396.10 C167.02,397.17 167.80,399.28 169.00,400.70 C170.20,402.12 171.33,404.55 173.10,404.60 C174.87,404.65 177.72,403.82 179.60,401.00 C181.48,398.18 182.82,392.47 184.40,387.70 C185.98,382.93 187.67,376.15 189.10,372.40 C190.53,368.65 191.73,365.20 193.00,365.20 C194.27,365.20 195.45,368.65 196.70,372.40 C197.95,376.15 199.23,383.25 200.50,387.70 C201.77,392.15 202.87,396.08 204.30,399.10 C205.73,402.12 207.35,403.90 209.10,405.80 C210.85,407.70 212.73,409.07 214.80,410.50 C216.87,411.93 219.43,413.67 221.50,414.40 C223.57,415.13 225.47,415.38 227.20,414.90 C228.93,414.42 230.32,413.50 231.90,411.50 C233.48,409.50 235.10,405.92 236.70,402.90 C238.30,399.88 239.92,395.78 241.50,393.40 C243.08,391.02 244.62,389.08 246.20,388.60 C247.78,388.12 249.40,389.38 251.00,390.50 C252.60,391.62 254.05,394.02 255.80,395.30 C257.55,396.58 259.75,396.93 261.50,398.20 C263.25,399.47 264.55,400.85 266.30,402.90 C268.05,404.95 269.93,407.95 272.00,410.50 C274.07,413.05 276.48,416.28 278.70,418.20 C280.92,420.12 283.25,421.68 285.30,422.00 C287.35,422.32 289.27,421.77 291.00,420.10 C292.73,418.43 293.97,414.95 295.70,412.00 C297.43,409.05 299.48,404.57 301.40,402.40 C303.32,400.23 305.45,398.83 307.20,399.00 C308.95,399.17 310.32,402.03 311.90,403.40 C313.48,404.77 314.95,406.25 316.70,407.20 C318.45,408.15 320.50,408.15 322.40,409.10 C324.30,410.05 326.18,411.53 328.10,412.90 C330.02,414.27 331.98,416.33 333.90,417.30 C335.82,418.27 337.70,419.12 339.60,418.70 C341.50,418.28 343.40,417.18 345.30,414.80 C347.20,412.42 349.10,407.57 351.00,404.40 C352.90,401.23 354.95,397.55 356.70,395.80 C358.45,394.05 359.90,393.58 361.50,393.90 C363.10,394.22 364.55,396.12 366.30,397.70 C368.05,399.28 370.10,401.65 372.00,403.40 C373.90,405.15 375.95,407.25 377.70,408.20 C379.45,409.15 380.92,409.42 382.50,409.10 C384.08,408.78 385.62,408.37 387.20,406.30 C388.78,404.23 390.40,399.88 392.00,396.70 C393.60,393.52 395.47,389.50 396.80,387.20 C398.13,384.90 398.83,384.10 400.00,382.90 C401.17,381.70 402.53,380.63 403.80,380.00 C405.07,379.37 406.02,379.25 407.60,379.10 C409.18,378.95 411.38,379.73 413.30,379.10 C415.22,378.47 417.18,377.22 419.10,375.30 C421.02,373.38 422.90,370.30 424.80,367.60 C426.70,364.90 428.75,362.43 430.50,359.10 C432.25,355.77 433.87,351.12 435.30,347.60 C436.73,344.08 437.52,342.03 439.10,338.00 C440.68,333.97 442.90,327.42 444.80,323.40 C446.70,319.38 448.58,316.43 450.50,313.90 C452.42,311.37 454.70,309.32 456.30,308.20 C457.90,307.08 458.68,307.05 460.10,307.20 C461.52,307.35 463.22,307.52 464.80,309.10 C466.38,310.68 468.00,313.52 469.60,316.70 C471.20,319.88 472.82,324.07 474.40,328.20 C475.98,332.33 477.75,337.53 479.10,341.50 C480.45,345.47 481.37,348.85 482.50,352.00 C483.63,355.15 484.35,358.13 485.90,360.40 C487.45,362.67 489.43,364.62 491.80,365.60 C494.17,366.58 497.53,366.05 500.10,366.30 C502.67,366.55 504.83,365.92 507.20,367.10 C509.57,368.28 512.13,370.57 514.30,373.40 C516.47,376.23 518.03,380.35 520.20,384.10 C522.37,387.85 524.73,392.95 527.30,395.90 C529.87,398.85 532.63,400.70 535.60,401.80 C538.57,402.90 541.95,402.68 545.10,402.50 C548.25,402.32 551.75,401.20 554.50,400.70 C557.25,400.20 559.03,399.32 561.60,399.50 C564.17,399.68 568.33,401.38 569.90,401.80 C571.47,402.22 570.82,401.97 571.00,402.00" fill="none" stroke="#7c7c1c" stroke-width="2.60" stroke-linejoin="round" stroke-linecap="butt"/>
<path d="M45.00,440.00 C52.50,439.70 79.32,438.82 90.00,438.20 C100.68,437.58 103.70,437.10 109.10,436.30 C114.50,435.50 118.27,434.83 122.40,433.40 C126.53,431.97 130.72,429.92 133.90,427.70 C137.08,425.48 139.28,423.28 141.50,420.10 C143.72,416.92 145.62,412.73 147.20,408.60 C148.78,404.47 149.88,400.38 151.00,395.30 C152.12,390.22 152.95,384.13 153.90,378.10 C154.85,372.07 155.75,364.02 156.70,359.10 C157.65,354.18 158.58,350.95 159.60,348.60 C160.62,346.25 161.68,344.68 162.80,345.00 C163.92,345.32 165.25,347.52 166.30,350.50 C167.35,353.48 168.15,358.93 169.10,362.90 C170.05,366.87 171.05,371.28 172.00,374.30 C172.95,377.32 173.85,379.67 174.80,381.00 C175.75,382.33 176.58,382.62 177.70,382.30 C178.82,381.98 180.23,381.38 181.50,379.10 C182.77,376.82 184.03,372.90 185.30,368.60 C186.57,364.30 187.73,357.48 189.10,353.30 C190.47,349.12 192.08,344.45 193.50,343.50 C194.92,342.55 196.43,345.00 197.60,347.60 C198.77,350.20 199.55,354.65 200.50,359.10 C201.45,363.55 202.18,369.85 203.30,374.30 C204.42,378.75 205.77,382.78 207.20,385.80 C208.63,388.82 210.32,390.98 211.90,392.40 C213.48,393.82 215.10,393.50 216.70,394.30 C218.30,395.10 219.92,396.23 221.50,397.20 C223.08,398.17 224.62,400.10 226.20,400.10 C227.78,400.10 229.25,399.27 231.00,397.20 C232.75,395.13 234.80,390.18 236.70,387.70 C238.60,385.22 240.65,382.62 242.40,382.30 C244.15,381.98 245.60,383.95 247.20,385.80 C248.80,387.65 250.42,391.02 252.00,393.40 C253.58,395.78 254.97,398.52 256.70,400.10 C258.43,401.68 260.48,401.95 262.40,402.90 C264.32,403.85 266.28,404.85 268.20,405.80 C270.12,406.75 272.00,407.65 273.90,408.60 C275.80,409.55 277.70,411.50 279.60,411.50 C281.50,411.50 283.57,409.95 285.30,408.60 C287.03,407.25 288.58,406.33 290.00,403.40 C291.42,400.47 292.53,394.97 293.80,391.00 C295.07,387.03 296.33,382.13 297.60,379.60 C298.87,377.07 300.12,375.80 301.40,375.80 C302.68,375.80 304.02,377.70 305.30,379.60 C306.58,381.50 307.68,384.50 309.10,387.20 C310.52,389.90 312.22,393.90 313.80,395.80 C315.38,397.70 316.85,398.60 318.60,398.60 C320.35,398.60 322.40,397.13 324.30,395.80 C326.20,394.47 328.08,392.20 330.00,390.60 C331.92,389.00 334.20,387.72 335.80,386.20 C337.40,384.68 338.33,384.52 339.60,381.50 C340.87,378.48 342.13,373.18 343.40,368.10 C344.67,363.02 345.93,355.77 347.20,351.00 C348.47,346.23 350.05,341.73 351.00,339.50 C351.95,337.27 352.10,337.28 352.90,337.60 C353.70,337.92 354.68,339.17 355.80,341.40 C356.92,343.63 358.17,348.45 359.60,351.00 C361.03,353.55 362.97,356.23 364.40,356.70 C365.83,357.17 366.93,355.92 368.20,353.80 C369.47,351.68 370.73,348.63 372.00,344.00 C373.27,339.37 374.37,333.48 375.80,326.00 C377.23,318.52 379.17,307.08 380.60,299.10 C382.03,291.12 383.42,283.07 384.40,278.10 C385.38,273.13 385.83,271.38 386.50,269.30 C387.17,267.22 387.62,265.35 388.40,265.60 C389.18,265.85 390.05,267.37 391.20,270.80 C392.35,274.23 394.15,282.20 395.30,286.20 C396.45,290.20 397.15,293.05 398.10,294.80 C399.05,296.55 399.88,296.80 401.00,296.70 C402.12,296.60 403.60,293.72 404.80,294.20 C406.00,294.68 407.25,296.48 408.20,299.60 C409.15,302.72 409.63,308.13 410.50,312.90 C411.37,317.67 412.45,323.43 413.40,328.20 C414.35,332.97 415.25,337.20 416.20,341.50 C417.15,345.80 417.98,349.17 419.10,354.00 C420.22,358.83 421.48,365.20 422.90,370.50 C424.32,375.80 425.85,380.87 427.60,385.80 C429.35,390.73 431.33,396.45 433.40,400.10 C435.47,403.75 437.62,405.90 440.00,407.70 C442.38,409.50 445.15,410.12 447.70,410.90 C450.25,411.68 452.77,411.77 455.30,412.40 C457.83,413.03 460.05,414.00 462.90,414.70 C465.75,415.40 469.22,416.28 472.40,416.60 C475.58,416.92 479.23,416.92 482.00,416.60 C484.77,416.28 486.92,415.03 489.00,414.70 C491.08,414.37 492.25,413.98 494.50,414.60 C496.75,415.22 499.20,416.70 502.50,418.40 C505.80,420.10 509.97,423.42 514.30,424.80 C518.63,426.18 523.37,426.32 528.50,426.70 C533.63,427.08 539.58,426.78 545.10,427.10 C550.62,427.42 557.47,428.08 561.60,428.60 C565.73,429.12 568.33,429.92 569.90,430.20 C571.47,430.48 570.82,430.28 571.00,430.30" fill="none" stroke="#29b6bc" stroke-width="2.60" stroke-linejoin="round" stroke-linecap="butt"/>
<path d="M45.00,647.60 C55.68,647.40 93.65,646.85 109.10,646.40 C124.55,645.95 129.77,645.43 137.70,644.90 C145.63,644.37 152.32,643.70 156.70,643.20 C161.08,642.70 161.77,642.38 164.00,641.90 C166.23,641.42 168.28,640.92 170.10,640.30 C171.92,639.68 173.32,639.05 174.90,638.20 C176.48,637.35 178.30,636.25 179.60,635.20 C180.90,634.15 181.63,633.23 182.70,631.90 C183.77,630.57 184.95,628.80 186.00,627.20 C187.05,625.60 187.73,625.20 189.00,622.30 C190.27,619.40 192.18,614.25 193.60,609.80 C195.02,605.35 196.25,600.40 197.50,595.60 C198.75,590.80 200.10,585.02 201.10,581.00 C202.10,576.98 202.55,573.63 203.50,571.50 C204.45,569.37 205.72,568.05 206.80,568.20 C207.88,568.35 208.82,569.47 210.00,572.40 C211.18,575.33 212.47,581.35 213.90,585.80 C215.33,590.25 217.02,596.08 218.60,599.10 C220.18,602.12 221.80,603.58 223.40,603.90 C225.00,604.22 226.45,604.02 228.20,601.00 C229.95,597.98 232.22,590.40 233.90,585.80 C235.58,581.20 237.13,575.78 238.30,573.40 C239.47,571.02 239.88,571.18 240.90,571.50 C241.92,571.82 243.03,572.60 244.40,575.30 C245.77,578.00 247.52,584.05 249.10,587.70 C250.68,591.35 252.47,595.13 253.90,597.20 C255.33,599.27 256.43,599.37 257.70,600.10 C258.97,600.83 260.07,600.65 261.50,601.60 C262.93,602.55 264.72,604.60 266.30,605.80 C267.88,607.00 269.42,609.35 271.00,608.80 C272.58,608.25 274.22,604.75 275.80,602.50 C277.38,600.25 279.08,596.75 280.50,595.30 C281.92,593.85 283.03,593.48 284.30,593.80 C285.57,594.12 286.67,595.05 288.10,597.20 C289.53,599.35 291.15,603.78 292.90,606.70 C294.65,609.62 296.70,613.10 298.60,614.70 C300.50,616.30 302.40,616.30 304.30,616.30 C306.20,616.30 308.08,614.87 310.00,614.70 C311.92,614.53 313.88,615.03 315.80,615.30 C317.72,615.57 319.77,616.78 321.50,616.30 C323.23,615.82 324.77,614.63 326.20,612.40 C327.63,610.17 328.82,606.70 330.10,602.90 C331.38,599.10 332.63,593.42 333.90,589.60 C335.17,585.78 336.43,582.07 337.70,580.00 C338.97,577.93 340.23,576.87 341.50,577.20 C342.77,577.53 343.87,579.62 345.30,582.00 C346.73,584.38 348.52,589.03 350.10,591.50 C351.68,593.97 353.53,595.78 354.80,596.80 C356.07,597.82 356.58,597.85 357.70,597.60 C358.82,597.35 360.07,597.12 361.50,595.30 C362.93,593.48 364.72,590.20 366.30,586.70 C367.88,583.20 369.50,578.58 371.00,574.30 C372.50,570.02 373.95,565.75 375.30,561.00 C376.65,556.25 377.83,551.83 379.10,545.80 C380.37,539.77 381.63,531.47 382.90,524.80 C384.17,518.13 385.58,509.98 386.70,505.80 C387.82,501.62 388.65,499.70 389.60,499.70 C390.55,499.70 391.30,502.88 392.40,505.80 C393.50,508.72 395.08,514.67 396.20,517.20 C397.32,519.73 398.15,521.00 399.10,521.00 C400.05,521.00 400.78,520.38 401.90,517.20 C403.02,514.02 404.52,507.30 405.80,501.90 C407.08,496.50 408.33,488.45 409.60,484.80 C410.87,481.15 412.13,479.68 413.40,480.00 C414.67,480.32 415.93,483.05 417.20,486.70 C418.47,490.35 419.73,495.87 421.00,501.90 C422.27,507.93 423.58,516.38 424.80,522.90 C426.02,529.42 427.18,535.82 428.30,541.00 C429.42,546.18 430.47,550.00 431.50,554.00 C432.53,558.00 433.50,561.00 434.50,565.00 C435.50,569.00 436.10,572.97 437.50,578.00 C438.90,583.03 440.72,589.77 442.90,595.20 C445.08,600.63 447.53,606.50 450.60,610.60 C453.67,614.70 457.72,617.35 461.30,619.80 C464.88,622.25 468.52,623.93 472.10,625.30 C475.68,626.67 479.48,627.65 482.80,628.00 C486.12,628.35 488.93,627.75 492.00,627.40 C495.07,627.05 498.13,625.43 501.20,625.90 C504.27,626.37 507.60,629.18 510.40,630.20 C513.20,631.22 515.23,631.53 518.00,632.00 C520.77,632.47 524.17,632.75 527.00,633.00 C529.83,633.25 532.00,633.00 535.00,633.50 C538.00,634.00 541.67,635.22 545.00,636.00 C548.33,636.78 550.67,637.73 555.00,638.20 C559.33,638.67 568.33,638.70 571.00,638.80" fill="none" stroke="#000000" stroke-width="2.60" stroke-linejoin="round" stroke-linecap="butt"/>
<path d="M45.00,647.40 C52.50,646.98 79.32,645.63 90.00,644.90 C100.68,644.17 103.38,643.97 109.10,643.00 C114.82,642.03 119.85,640.70 124.30,639.10 C128.75,637.50 132.62,635.93 135.80,633.40 C138.98,630.87 141.18,627.72 143.40,623.90 C145.62,620.08 147.35,615.90 149.10,610.50 C150.85,605.10 152.47,597.85 153.90,591.50 C155.33,585.15 156.60,577.33 157.70,572.40 C158.80,567.47 159.65,564.12 160.50,561.90 C161.35,559.68 161.90,558.62 162.80,559.10 C163.70,559.58 164.85,561.95 165.90,564.80 C166.95,567.65 167.93,572.38 169.10,576.20 C170.27,580.02 171.52,584.83 172.90,587.70 C174.28,590.57 175.97,593.25 177.40,593.40 C178.83,593.55 180.10,592.00 181.50,588.60 C182.90,585.20 184.38,577.77 185.80,573.00 C187.22,568.23 188.72,562.62 190.00,560.00 C191.28,557.38 192.23,556.82 193.50,557.30 C194.77,557.78 196.43,560.07 197.60,562.90 C198.77,565.73 199.53,570.17 200.50,574.30 C201.47,578.43 202.28,583.88 203.40,587.70 C204.52,591.52 205.93,594.98 207.20,597.20 C208.47,599.42 209.57,600.05 211.00,601.00 C212.43,601.95 214.22,601.95 215.80,602.90 C217.38,603.85 218.92,605.48 220.50,606.70 C222.08,607.92 223.87,609.72 225.30,610.20 C226.73,610.68 227.52,611.13 229.10,609.60 C230.68,608.07 233.05,603.38 234.80,601.00 C236.55,598.62 238.33,596.47 239.60,595.30 C240.87,594.13 241.28,593.85 242.40,594.00 C243.52,594.15 244.87,594.72 246.30,596.20 C247.73,597.68 249.42,600.52 251.00,602.90 C252.58,605.28 254.20,608.75 255.80,610.50 C257.40,612.25 258.70,612.72 260.60,613.40 C262.50,614.08 265.55,614.25 267.20,614.60 C268.85,614.95 269.23,614.75 270.50,615.50 C271.77,616.25 273.13,618.08 274.80,619.10 C276.47,620.12 278.75,621.60 280.50,621.60 C282.25,621.60 283.72,620.95 285.30,619.10 C286.88,617.25 288.42,614.15 290.00,610.50 C291.58,606.85 293.37,600.68 294.80,597.20 C296.23,593.72 297.48,591.18 298.60,589.60 C299.72,588.02 300.38,587.38 301.50,587.70 C302.62,588.02 303.88,589.28 305.30,591.50 C306.72,593.72 308.42,598.30 310.00,601.00 C311.58,603.70 313.20,606.37 314.80,607.70 C316.40,609.03 318.02,609.32 319.60,609.00 C321.18,608.68 322.55,606.97 324.30,605.80 C326.05,604.63 328.18,603.12 330.10,602.00 C332.02,600.88 334.07,600.85 335.80,599.10 C337.53,597.35 339.07,595.00 340.50,591.50 C341.93,588.00 343.12,583.18 344.40,578.10 C345.68,573.02 347.10,565.13 348.20,561.00 C349.30,556.87 350.22,554.73 351.00,553.30 C351.78,551.87 352.10,552.07 352.90,552.40 C353.70,552.73 354.68,553.23 355.80,555.30 C356.92,557.37 358.30,562.60 359.60,564.80 C360.90,567.00 362.28,569.13 363.60,568.50 C364.92,567.87 366.18,563.92 367.50,561.00 C368.82,558.08 369.88,555.77 371.50,551.00 C373.12,546.23 375.62,538.67 377.20,532.40 C378.78,526.13 379.90,519.43 381.00,513.40 C382.10,507.37 382.92,500.50 383.80,496.20 C384.68,491.90 385.57,489.50 386.30,487.60 C387.03,485.70 387.50,484.80 388.20,484.80 C388.90,484.80 389.63,485.38 390.50,487.60 C391.37,489.82 392.28,494.43 393.40,498.10 C394.52,501.77 396.10,507.12 397.20,509.60 C398.30,512.08 398.88,512.75 400.00,513.00 C401.12,513.25 402.78,510.72 403.90,511.10 C405.02,511.48 405.75,512.38 406.70,515.30 C407.65,518.22 408.65,524.15 409.60,528.60 C410.55,533.05 411.25,536.77 412.40,542.00 C413.55,547.23 414.98,554.20 416.50,560.00 C418.02,565.80 419.65,570.68 421.50,576.80 C423.35,582.92 425.57,591.07 427.60,596.70 C429.63,602.33 431.40,606.87 433.70,610.60 C436.00,614.33 438.83,617.32 441.40,619.10 C443.97,620.88 445.78,620.68 449.10,621.30 C452.42,621.92 457.22,622.13 461.30,622.80 C465.38,623.47 469.75,625.03 473.60,625.30 C477.45,625.57 481.07,624.82 484.40,624.40 C487.73,623.98 490.80,622.55 493.60,622.80 C496.40,623.05 498.40,624.32 501.20,625.90 C504.00,627.48 506.82,630.78 510.40,632.30 C513.98,633.82 518.10,634.35 522.70,635.00 C527.30,635.65 532.88,636.02 538.00,636.20 C543.12,636.38 547.90,635.70 553.40,636.10 C558.90,636.50 568.07,638.18 571.00,638.60" fill="none" stroke="#e01a1e" stroke-width="2.60" stroke-linejoin="round" stroke-linecap="butt"/>
<text transform="translate(29.86,223.41) scale(1.000,1)" font-size="14.00" fill="#111" stroke="#111">0</text>
<text transform="translate(29.72,181.25) scale(1.000,1)" font-size="14.00" fill="#111" stroke="#111">4</text>
<text transform="translate(29.93,139.09) scale(1.000,1)" font-size="14.00" fill="#111" stroke="#111">8</text>
<text transform="translate(22.26,97.00) scale(1.000,1)" font-size="14.00" fill="#111" stroke="#111">12</text>
<text transform="translate(22.16,54.77) scale(1.000,1)" font-size="14.00" fill="#111" stroke="#111">16</text>
<text transform="translate(22.09,12.61) scale(1.000,1)" font-size="14.00" fill="#111" stroke="#111">20</text>
<text transform="translate(29.86,444.61) scale(1.000,1)" font-size="14.00" fill="#111" stroke="#111">0</text>
<text transform="translate(29.72,402.49) scale(1.000,1)" font-size="14.00" fill="#111" stroke="#111">4</text>
<text transform="translate(29.93,360.37) scale(1.000,1)" font-size="14.00" fill="#111" stroke="#111">8</text>
<text transform="translate(22.26,318.32) scale(1.000,1)" font-size="14.00" fill="#111" stroke="#111">12</text>
<text transform="translate(22.16,276.13) scale(1.000,1)" font-size="14.00" fill="#111" stroke="#111">16</text>
<text transform="translate(29.86,651.71) scale(1.000,1)" font-size="14.00" fill="#111" stroke="#111">0</text>
<text transform="translate(29.72,612.47) scale(1.000,1)" font-size="14.00" fill="#111" stroke="#111">4</text>
<text transform="translate(29.93,573.23) scale(1.000,1)" font-size="14.00" fill="#111" stroke="#111">8</text>
<text transform="translate(22.26,534.06) scale(1.000,1)" font-size="14.00" fill="#111" stroke="#111">12</text>
<text transform="translate(22.16,494.75) scale(1.000,1)" font-size="14.00" fill="#111" stroke="#111">16</text>
<text transform="translate(40.72,663.60) scale(1.000,1)" font-size="15.00" fill="#111" stroke="#111">0</text>
<text transform="translate(145.75,663.75) scale(1.000,1)" font-size="15.00" fill="#111" stroke="#111">1</text>
<text transform="translate(251.18,663.75) scale(1.000,1)" font-size="15.00" fill="#111" stroke="#111">2</text>
<text transform="translate(356.44,663.60) scale(1.000,1)" font-size="15.00" fill="#111" stroke="#111">3</text>
<text transform="translate(461.65,663.75) scale(1.000,1)" font-size="15.00" fill="#111" stroke="#111">4</text>
<text transform="translate(566.84,663.60) scale(1.000,1)" font-size="15.00" fill="#111" stroke="#111">5</text>
<text transform="translate(257.99,678.45) scale(1.055,1)" font-size="16.15" fill="#111" stroke="#111">Energy (eV)</text>
<text transform="translate(13.70,141.44) rotate(-90) scale(1.030,1)" font-size="15.00" fill="#111" font-weight="bold" stroke="#111">Im</text>
<text transform="translate(13.00,118.24) rotate(-90) scale(1.150,1)" font-size="12.00" fill="#111" font-style="italic" stroke="#111">ε</text>
<text transform="translate(18.90,112.75) rotate(-90) scale(1.000,1)" font-size="9.00" fill="#111" stroke="#111">2</text>
<text transform="translate(13.90,106.94) rotate(-90) scale(1.000,1)" font-size="15.00" fill="#111" stroke="#111">(</text>
<text transform="translate(12.80,100.66) rotate(-90) scale(1.000,1)" font-size="11.40" fill="#111" stroke="#111">ω</text>
<text transform="translate(13.90,90.71) rotate(-90) scale(1.000,1)" font-size="15.00" fill="#111" stroke="#111">)</text>
<text transform="translate(15.20,363.24) rotate(-90) scale(1.030,1)" font-size="15.00" fill="#111" font-weight="bold" stroke="#111">Im</text>
<text transform="translate(14.50,340.04) rotate(-90) scale(1.150,1)" font-size="12.00" fill="#111" font-style="italic" stroke="#111">ε</text>
<text transform="translate(20.40,334.55) rotate(-90) scale(1.000,1)" font-size="9.00" fill="#111" stroke="#111">2</text>
<text transform="translate(15.40,328.74) rotate(-90) scale(1.000,1)" font-size="15.00" fill="#111" stroke="#111">(</text>
<text transform="translate(14.30,322.46) rotate(-90) scale(1.000,1)" font-size="11.40" fill="#111" stroke="#111">ω</text>
<text transform="translate(15.40,312.51) rotate(-90) scale(1.000,1)" font-size="15.00" fill="#111" stroke="#111">)</text>
<text transform="translate(15.30,584.74) rotate(-90) scale(1.030,1)" font-size="15.00" fill="#111" font-weight="bold" stroke="#111">Im</text>
<text transform="translate(14.60,561.54) rotate(-90) scale(1.150,1)" font-size="12.00" fill="#111" font-style="italic" stroke="#111">ε</text>
<text transform="translate(20.50,556.05) rotate(-90) scale(1.000,1)" font-size="9.00" fill="#111" stroke="#111">2</text>
<text transform="translate(15.50,550.24) rotate(-90) scale(1.000,1)" font-size="15.00" fill="#111" stroke="#111">(</text>
<text transform="translate(14.40,543.96) rotate(-90) scale(1.000,1)" font-size="11.40" fill="#111" stroke="#111">ω</text>
<text transform="translate(15.50,534.01) rotate(-90) scale(1.000,1)" font-size="15.00" fill="#111" stroke="#111">)</text>
<rect x="55.2" y="18.0" width="148.6" height="78.3" fill="#fff" stroke="#888" stroke-width="1.2"/>
<line x1="56.20" y1="28.60" x2="89.00" y2="28.60" stroke="#000000" stroke-width="2.80" stroke-linecap="butt"/>
<text transform="translate(92.93,32.80) scale(1.016,1)" font-size="15.10" fill="#111" stroke="#111">GW+RPA</text>
<line x1="56.20" y1="47.85" x2="89.00" y2="47.85" stroke="#e01a1e" stroke-width="2.80" stroke-linecap="butt"/>
<text transform="translate(92.93,52.05) scale(1.016,1)" font-size="15.10" fill="#111" stroke="#111">GW+BSE</text>
<line x1="56.20" y1="67.10" x2="89.00" y2="67.10" stroke="#7c7c1c" stroke-width="2.80" stroke-linecap="butt"/>
<text transform="translate(92.93,71.30) scale(1.016,1)" font-size="15.10" fill="#111" stroke="#111">GW+RPA+SOC</text>
<line x1="56.20" y1="86.10" x2="89.00" y2="86.10" stroke="#29b6bc" stroke-width="2.80" stroke-linecap="butt"/>
<text transform="translate(92.93,90.30) scale(1.016,1)" font-size="15.10" fill="#111" stroke="#111">GW+BSE+SOC</text>
<rect x="470.3" y="467.8" width="72.3" height="44.6" fill="#fff" stroke="#888" stroke-width="1.2"/>
<line x1="472.00" y1="480.10" x2="510.30" y2="480.10" stroke="#000000" stroke-width="2.80" stroke-linecap="butt"/>
<line x1="472.00" y1="501.00" x2="510.30" y2="501.00" stroke="#e01a1e" stroke-width="2.80" stroke-linecap="butt"/>
<text transform="translate(515.13,484.99) scale(1.044,1)" font-size="15.97" fill="#111" stroke="#111">0%</text>
<text transform="translate(514.96,506.57) scale(1.026,1)" font-size="16.37" fill="#111" stroke="#111">2%</text>
<text transform="translate(441.75,537.59) scale(1.072,1)" font-size="15.83" fill="#111" stroke="#111">GW+BSE+SOC</text>
<text transform="translate(69.38,134.95) scale(1.088,1)" font-size="16.41" fill="#111" stroke="#111">(a)</text>
<text transform="translate(69.38,356.42) scale(1.022,1)" font-size="17.48" fill="#111" stroke="#111">(b)</text>
<text transform="translate(69.70,570.36) scale(1.045,1)" font-size="16.84" fill="#111" stroke="#111">(c)</text>
<text transform="translate(489.74,35.49) scale(1.027,1)" font-size="16.40" fill="#111" stroke="#111">strain 0%</text>
<text transform="translate(489.94,257.49) scale(1.027,1)" font-size="16.40" fill="#111" stroke="#111">strain 2%</text>
<text transform="translate(220.10,58.72) scale(1.045,1)" font-size="12.76" fill="#d8202a" stroke="#d8202a">1.75</text>
<text transform="translate(185.83,128.11) scale(0.929,1)" font-size="13.91" fill="#35bcc4" stroke="#35bcc4">1.54</text>
<text transform="translate(241.42,131.02) scale(0.984,1)" font-size="13.29" fill="#35bcc4" stroke="#35bcc4">1.86</text>
<text transform="translate(160.25,155.32) scale(0.964,1)" font-size="13.14" fill="#7d7d22" stroke="#7d7d22">1.81</text>
<text transform="translate(148.02,176.62) scale(1.005,1)" font-size="13.05" fill="#7d7d22" stroke="#7d7d22">1.55</text>
<text transform="translate(239.79,212.32) scale(1.038,1)" font-size="13.00" fill="#1a1a1a" stroke="#1a1a1a">1.95</text>
<text transform="translate(384.59,22.62) scale(1.033,1)" font-size="13.29" fill="#d8202a" stroke="#d8202a">3.48</text>
<text transform="translate(418.39,41.32) scale(1.048,1)" font-size="12.86" fill="#35bcc4" stroke="#35bcc4">3.50</text>
<text transform="translate(459.59,78.85) scale(1.045,1)" font-size="13.24" fill="#7d7d22" stroke="#7d7d22">4.11</text>
<text transform="translate(486.89,84.42) scale(1.064,1)" font-size="12.86" fill="#1a1a1a" stroke="#1a1a1a">4.19</text>
<text transform="translate(174.18,280.40) scale(0.997,1)" font-size="14.98" fill="#d8202a" stroke="#d8202a">1.36</text>
<text transform="translate(142.72,339.65) scale(1.084,1)" font-size="13.33" fill="#35bcc4" stroke="#35bcc4">1.12</text>
<text transform="translate(199.93,334.75) scale(1.018,1)" font-size="13.96" fill="#35bcc4" stroke="#35bcc4">1.41</text>
<text transform="translate(125.53,360.85) scale(1.029,1)" font-size="13.82" fill="#7d7d22" stroke="#7d7d22">1.4</text>
<text transform="translate(114.09,390.95) scale(1.040,1)" font-size="14.25" fill="#7d7d22" stroke="#7d7d22">1.11</text>
<text transform="translate(202.28,431.22) scale(1.148,1)" font-size="13.00" fill="#1a1a1a" stroke="#1a1a1a">1.6</text>
<text transform="translate(375.24,251.00) scale(0.984,1)" font-size="15.27" fill="#d8202a" stroke="#d8202a">3.28</text>
<text transform="translate(437.04,301.02) scale(1.159,1)" font-size="12.86" fill="#7d7d22" stroke="#7d7d22">3.96</text>
<text transform="translate(473.65,308.61) scale(1.118,1)" font-size="13.99" fill="#1a1a1a" stroke="#1a1a1a">4.02</text>
<text transform="translate(134.21,557.55) scale(1.011,1)" font-size="13.05" fill="#d8202a" stroke="#d8202a">1.12</text>
<text transform="translate(176.17,552.45) scale(0.937,1)" font-size="13.24" fill="#d8202a" stroke="#d8202a">1.41</text>
<text transform="translate(203.71,562.53) scale(1.062,1)" font-size="12.47" fill="#1a1a1a" stroke="#1a1a1a">1.54</text>
<text transform="translate(238.00,564.32) scale(1.038,1)" font-size="12.86" fill="#1a1a1a" stroke="#1a1a1a">1.86</text>
<text transform="translate(366.60,476.72) scale(1.038,1)" font-size="12.86" fill="#d8202a" stroke="#d8202a">3.26</text>
<text transform="translate(402.81,472.92) scale(0.990,1)" font-size="13.29" fill="#1a1a1a" stroke="#1a1a1a">3.50</text>
<line x1="188.90" y1="156.00" x2="224.81" y2="164.46" stroke="#000" stroke-width="1.60" stroke-linecap="butt"/><polygon points="232.60,166.30 223.15,167.16 224.53,161.32" fill="#000"/>
<line x1="176.30" y1="174.80" x2="194.83" y2="183.96" stroke="#000" stroke-width="1.60" stroke-linecap="butt"/><polygon points="202.00,187.50 192.60,186.20 195.26,180.82" fill="#000"/>
<line x1="252.50" y1="200.70" x2="252.02" y2="183.70" stroke="#000" stroke-width="1.60" stroke-linecap="butt"/><polygon points="251.80,175.70 255.05,184.61 249.05,184.78" fill="#000"/>
<line x1="148.20" y1="353.30" x2="185.21" y2="361.97" stroke="#000" stroke-width="1.60" stroke-linecap="butt"/><polygon points="193.00,363.80 183.55,364.67 184.92,358.83" fill="#000"/>
<line x1="144.30" y1="385.80" x2="152.61" y2="390.41" stroke="#000" stroke-width="1.60" stroke-linecap="butt"/><polygon points="159.60,394.30 150.28,392.55 153.19,387.31" fill="#000"/>
<line x1="212.90" y1="421.00" x2="211.90" y2="405.18" stroke="#000" stroke-width="1.60" stroke-linecap="butt"/><polygon points="211.40,397.20 214.96,405.99 208.97,406.37" fill="#000"/>
</svg></body></html>
